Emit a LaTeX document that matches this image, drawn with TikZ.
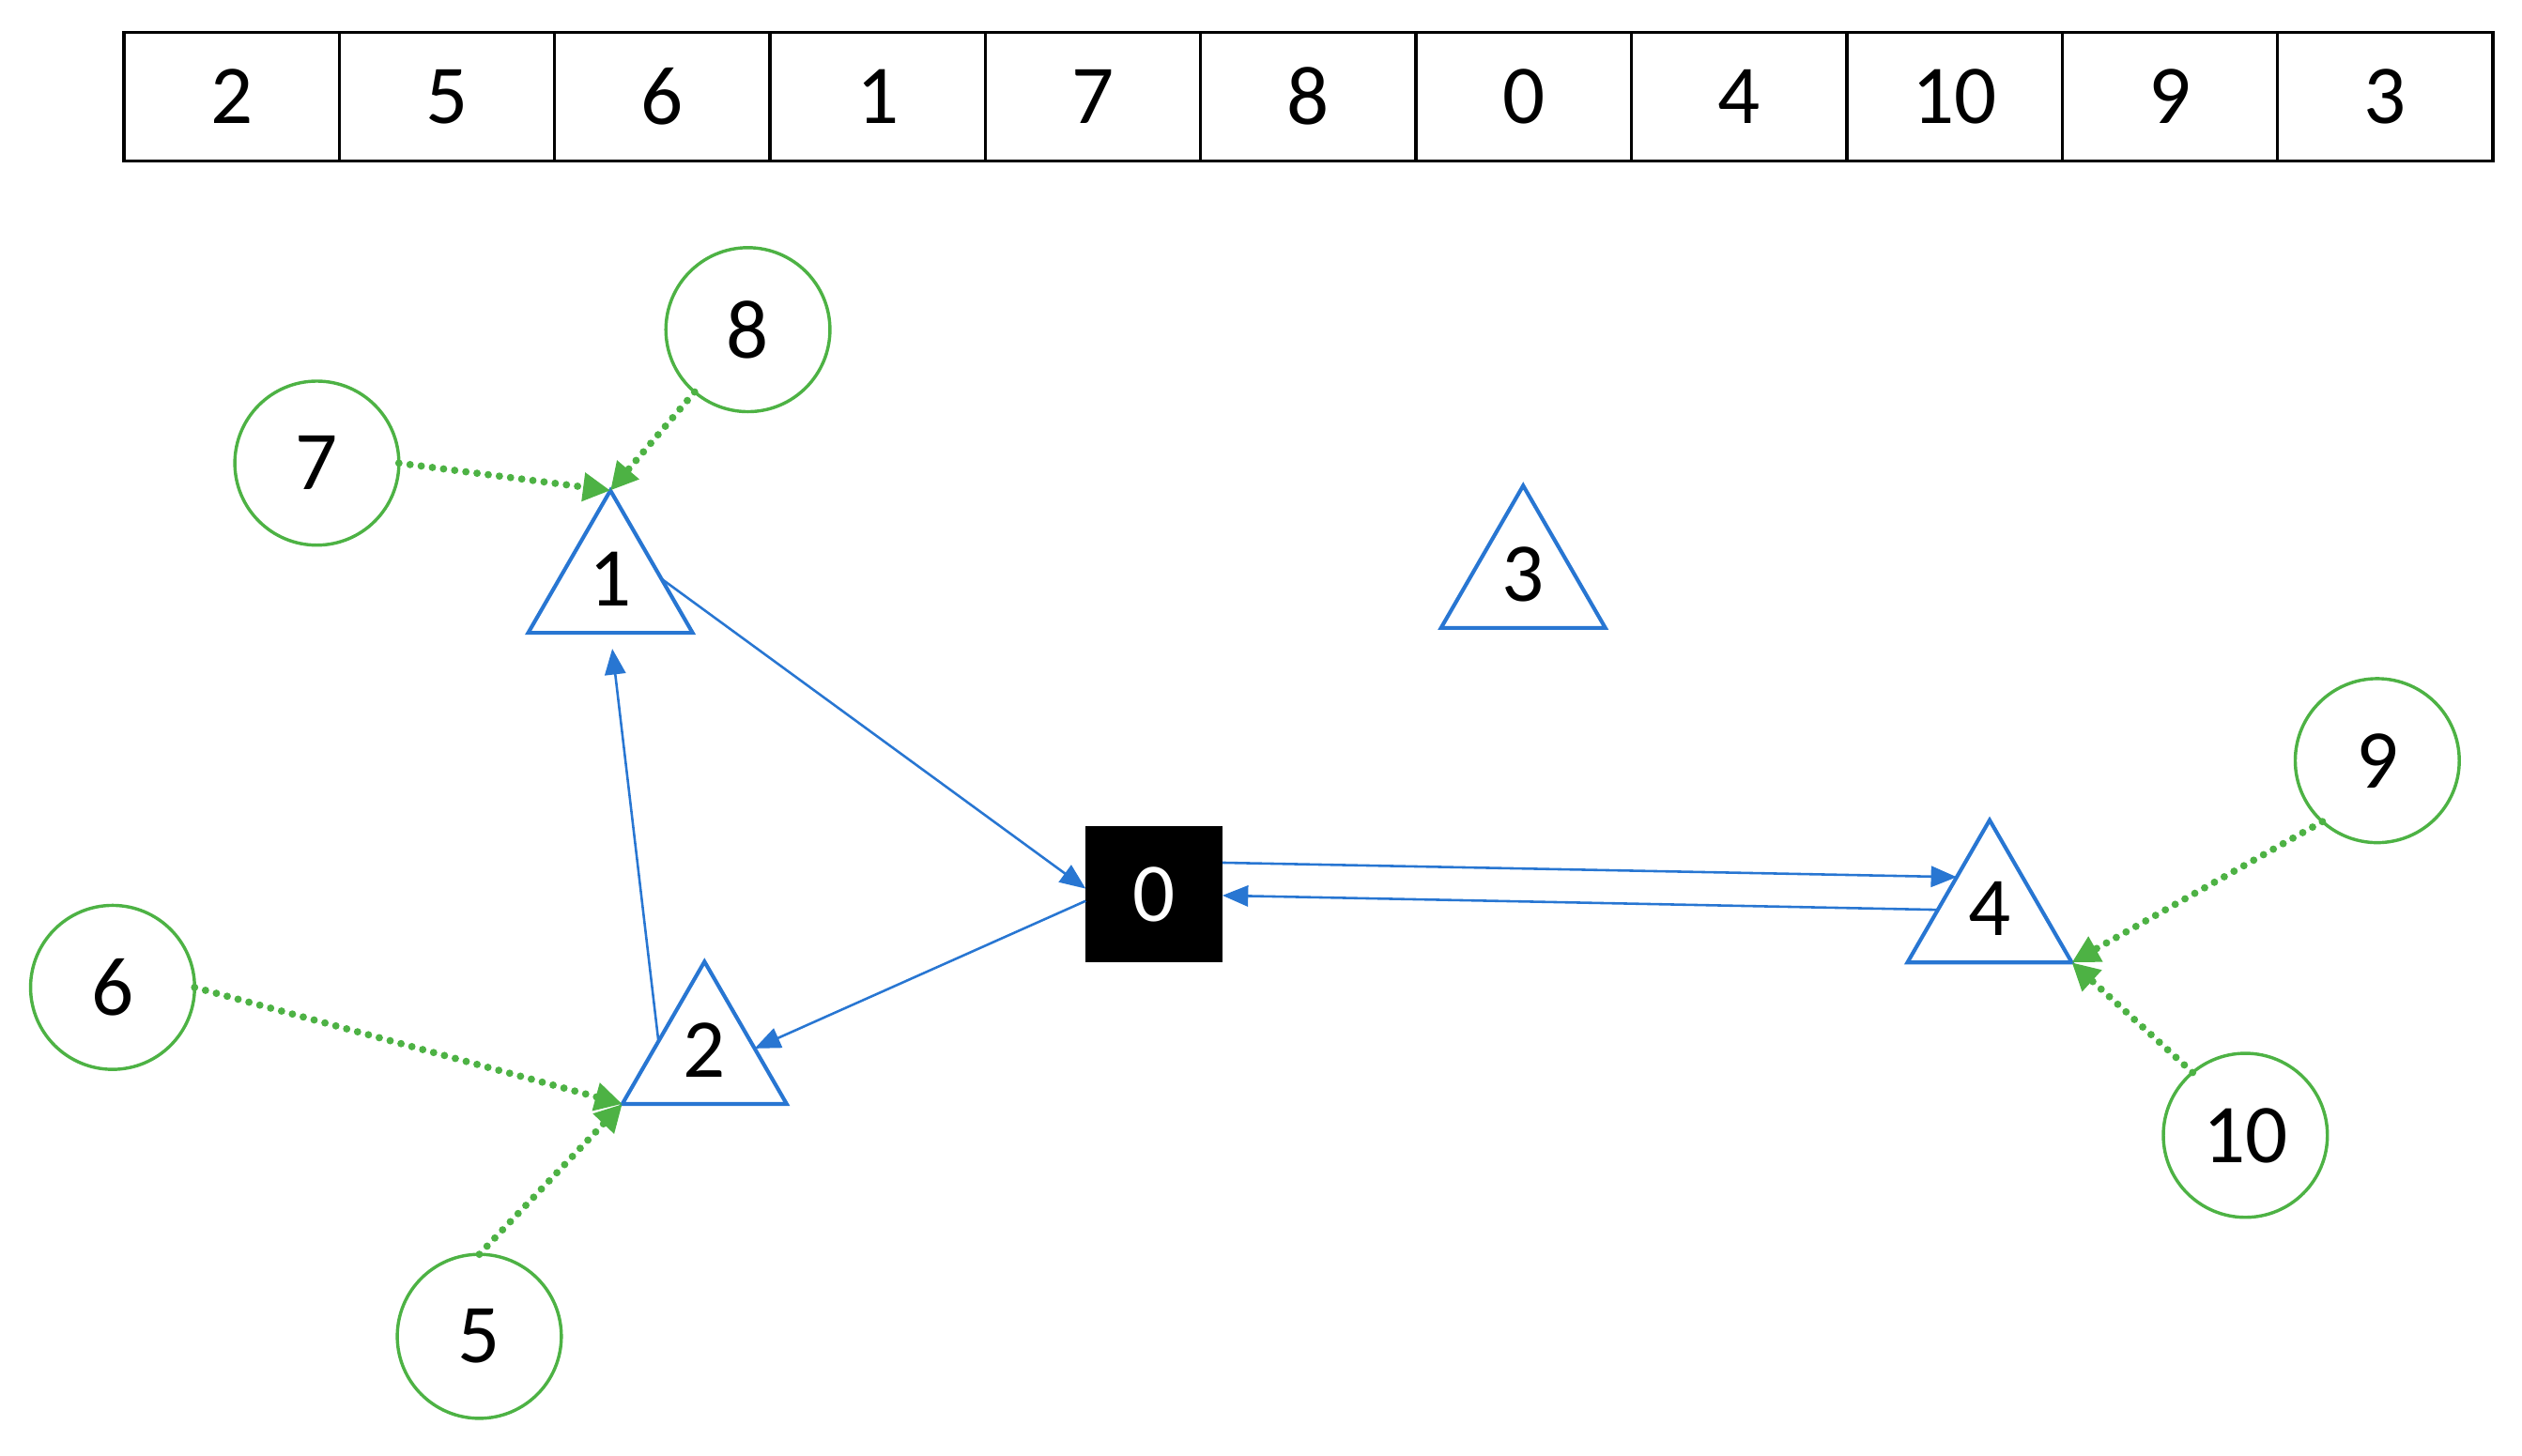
\documentclass[tikz,border=0pt]{standalone}
\usepackage{fontspec}
\setmainfont{Carlito}
\usetikzlibrary{shapes.geometric,arrows.meta,calc}
\definecolor{tblue}{RGB}{40,118,210}
\definecolor{tgreen}{RGB}{77,178,68}
\begin{document}
\begin{tikzpicture}[x=0.5pt,y=-0.5pt,
  every node/.style={font=\fontsize{26}{30}\selectfont},
  cellbox/.style={draw=black,line width=1pt,minimum width=66.95pt,minimum height=40pt,inner sep=0pt,outer sep=0pt},
  gcirc/.style={circle,draw=tgreen,line width=1pt,minimum size=51pt,inner sep=0pt,outer sep=0pt},
  tri/.style={regular polygon,regular polygon sides=3,draw=tblue,line width=1.2pt,minimum size=59pt,inner sep=0pt,outer sep=0pt},
  trilabel/.style={yshift=2pt},
  sq/.style={fill=black,text=white,minimum size=42.5pt,inner sep=0pt,outer sep=0pt},
  barrow/.style={draw=tblue,line width=0.75pt,-{Triangle[length=8pt,width=6.5pt]}},
  garrow/.style={draw=tgreen,line width=2.3pt,line cap=round,dash pattern=on 0pt off 3.5pt,-{Triangle[length=8.5pt,width=8.5pt,line cap=butt]}}
]
\useasboundingbox (0,0) rectangle (1568,905);
% table
\foreach \v [count=\i from 0] in {2,5,6,1,7,8,0,4,10,9,3}{
  \node[cellbox] (cell\i) at ({77+133.9*(\i+0.5)},60) {\v};
}
% circles
\node[gcirc] (n8) at (465,205) {8};
\node[gcirc] (n7) at (197,288) {7};
\node[gcirc] (n6) at (70,614) {6};
\node[gcirc] (n5) at (298,831) {5};
\node[gcirc] (n9) at (1478,473) {9};
\node[gcirc] (n10) at (1396,706) {10};
% triangles
\node[tri,label={[trilabel]center:1}] (t1) at (379.5,364) {};
\node[tri,label={[trilabel]center:2}] (t2) at (438,657) {};
\node[tri,label={[trilabel]center:3}] (t3) at (947,361) {};
\node[tri,label={[trilabel]center:4}] (t4) at (1237,569) {};
% square
\node[sq] (s0) at (717.5,556) {0};
% blue arrows
\draw[barrow] ($(t1.corner 1)!0.62!(t1.corner 3)$) -- ($(s0.north west)!0.46!(s0.south west)$);
\draw[barrow,shorten >=5pt] ($(t2.corner 1)!0.56!(t2.corner 2)$) -- (t1.south);
\draw[barrow] ($(s0.north west)!0.55!(s0.south west)$) -- ($(t2.corner 1)!0.61!(t2.corner 3)$);
\draw[barrow] ($(s0.north east)!0.27!(s0.south east)$) -- ($(t4.corner 1)!0.4!(t4.corner 2)$);
\draw[barrow] ($(t4.corner 1)!0.63!(t4.corner 2)$) -- ($(s0.north east)!0.51!(s0.south east)$);
% green arrows
\draw[garrow] (n7.east) -- (t1.corner 1);
\draw[garrow] (n8) -- (t1.corner 1);
\draw[garrow] (n6.east) -- (t2.corner 2);
\draw[garrow] (n5.north) -- (t2.corner 2);
\draw[garrow] (n9.228) -- (t4.corner 3);
\draw[garrow] (n10.130) -- (t4.corner 3);
\end{tikzpicture}
\end{document}
